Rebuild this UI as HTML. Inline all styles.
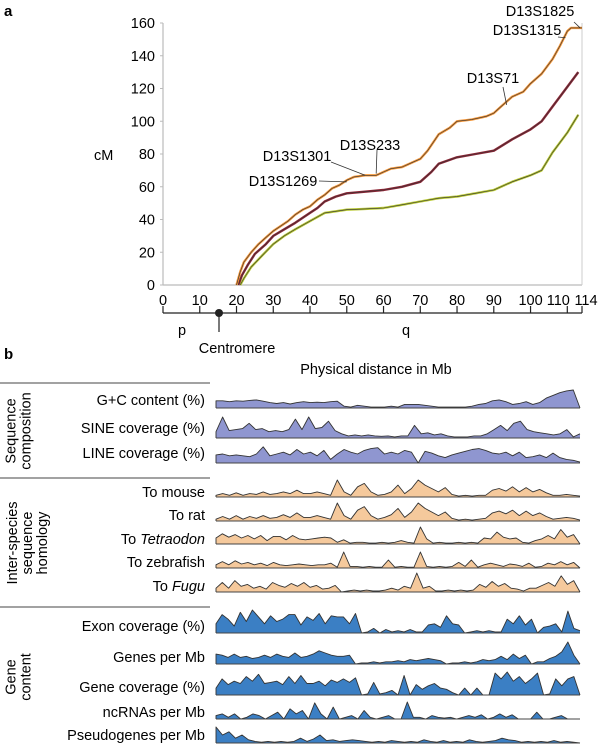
<!DOCTYPE html>
<html><head><meta charset="utf-8">
<style>
body{margin:0;background:#fff;}
svg{display:block;font-family:"Liberation Sans",Arial,sans-serif;}
</style></head>
<body>
<svg id="fig" width="600" height="746" viewBox="0 0 600 746" xmlns="http://www.w3.org/2000/svg">
<text x="4" y="16" font-size="15" font-weight="bold">a</text>
<text x="4" y="359" font-size="15" font-weight="bold">b</text>
<text x="94" y="160" font-size="14.5">cM</text>
<g id="axes"></g>
<g id="curves"></g>
<g id="markers"></g>
<g id="tracks"></g>
</svg>
<script>
// ---- Panel a data ----
const mbOrange = [20,21,22,24,26,28,30,32,34,36,38,40,42,44,46,48,50,52,55,58,60,62,65,68,70,72,75,78,80,84,88,90,92,95,98,100,103,106,108,110,111,114];
const cmOrange = [0,8,14,20,25,29,33,36,39,43,46,48,52,55,59,61,64,66,67,67,69,71,72,75,77,82,92,96,100,101,103,105,109,115,118,123,129,138,146,155,157,157];
const mbRed = [20.5,21.5,23,25,28,30,33,36,40,42,44,47,50,55,60,65,70,73,75,80,85,90,95,100,103,106,110,113];
const cmRed = [0,6,12,19,25,30,34,38,44,47,51,54,56,57,58,60,63,69,74,78,80,82,89,95,100,109,121,130];
const mbGreen = [21,22,24,27,30,33,36,40,44,47,50,55,60,65,70,75,80,85,90,95,100,103,106,110,113];
const cmGreen = [0,4,11,18,25,30,34,39,44,45,46,46.5,47,49,51,53,54,56,58,63,67,70,81,93,104];
const yTicks = [0,20,40,60,80,100,120,140,160];
const xTicks = [0,10,20,30,40,50,60,70,80,90,100,110,114];
const markerNames = ["D13S1825","D13S1315","D13S71","D13S233","D13S1301","D13S1269"];
const markerMb = [113.5,109.5,93.5,58,55,50];
const markerCm = [157,151,110,68,67,63];

// ---- Panel b data (relative heights 0..1) ----
const trackNames = ["G+C content  (%)","SINE coverage (%)","LINE coverage (%)","To mouse","To rat","To Tetraodon","To zebrafish","To Fugu","Exon coverage (%)","Genes per Mb","Gene coverage (%)","ncRNAs per Mb","Pseudogenes per Mb"];
const gcVals = [0.4,0.4,0.35,0.4,0.38,0.42,0.45,0.38,0.3,0.25,0.3,0.22,0.3,0.35,0.3,0.32,0.3,0.35,0.38,0.1,0.05,0.15,0.1,0.05,0.05,0.05,0.1,0.05,0.2,0.2,0.2,0.15,0.1,0.05,0.05,0.05,0.05,0.05,0.1,0.2,0.25,0.4,0.45,0.35,0.2,0.25,0.35,0.2,0.3,0.55,0.7,0.85,0.95,1.0,0.0];
const sineVals = [0.3,1.0,0.35,0.4,0.45,0.7,0.4,0.45,0.3,0.35,0.3,0.4,0.9,0.4,1.0,0.45,0.5,0.8,0.35,0.2,0.1,0.15,0.1,0.15,0.1,0.08,0.1,0.05,0.1,0.1,0.6,0.2,0.25,0.15,0.2,0.1,0.05,0.05,0.05,0.1,0.1,0.2,0.4,0.6,0.35,0.7,0.8,0.4,0.3,0.25,0.2,0.15,0.2,0.4,0.05,0.2];
const lineVals = [0.45,0.5,0.4,0.45,0.4,0.35,0.5,0.9,0.4,0.5,0.6,0.45,0.75,0.5,0.6,0.4,0.7,0.2,0.5,0.75,0.6,0.5,0.7,0.8,0.85,0.5,0.6,0.5,0.7,0.6,0.0,0.65,0.55,0.4,0.3,0.45,0.55,0.65,0.75,0.8,0.7,0.55,0.5,0.6,0.4,0.6,0.3,0.35,0.45,0.3,0.55,0.3,0.2,0.15,0.05];
const mouseVals = [0.1,0.2,0.1,0.25,0.1,0.2,0.15,0.3,0.15,0.2,0.3,0.2,0.4,0.2,0.2,0.3,0.2,0.1,1.0,0.3,0.1,0.6,0.8,0.3,0.1,0.15,0.3,0.7,0.2,0.5,1.0,0.7,0.5,0.3,0.55,0.15,0.05,0.1,0.05,0.1,0.1,0.4,0.5,0.35,0.6,0.3,0.55,0.3,0.45,0.25,0.1,0.1,0.15,0.1,0.05];
const ratVals = [0.1,0.25,0.1,0.3,0.1,0.25,0.15,0.3,0.15,0.2,0.35,0.2,0.45,0.2,0.2,0.3,0.2,0.1,1.0,0.3,0.1,0.6,0.8,0.3,0.1,0.2,0.35,0.7,0.2,0.5,1.0,0.7,0.5,0.3,0.5,0.15,0.05,0.1,0.05,0.1,0.15,0.45,0.55,0.4,0.6,0.3,0.55,0.3,0.45,0.25,0.1,0.15,0.2,0.15,0.05];
const tetraVals = [0.35,0.6,0.4,0.55,0.35,0.5,0.3,0.5,0.2,0.45,0.45,0.25,0.5,0.3,0.25,0.3,0.35,0.4,0.35,0.1,0.25,0.05,0.1,0.1,0.05,0.05,0.1,0.05,0.1,0.2,0.1,0.05,1.0,0.3,0.05,0.1,0.05,0.05,0.1,0.05,0.1,0.05,0.35,0.3,0.7,0.4,0.3,0.35,0.1,0.05,0.2,0.3,0.5,0.3,0.85,0.4,0.55,0.0];
const zebraVals = [0.2,0.4,0.2,0.45,0.25,0.35,0.2,0.3,0.15,0.35,0.2,0.15,0.2,0.25,0.2,0.15,0.2,0.2,0.3,0.05,1.0,0.1,0.1,0.05,0.1,0.05,0.05,0.5,0.05,0.1,0.05,0.05,1.0,0.1,0.05,0.1,0.05,0.1,0.35,0.1,0.5,0.05,0.2,0.3,0.2,0.1,0.25,0.2,0.1,0.3,0.05,0.1,0.3,0.2,0.4,0.2,0.35,0.0];
const fuguVals = [0.2,0.5,0.2,0.6,0.3,0.4,0.2,0.3,0.15,0.5,0.35,0.25,0.45,0.3,0.5,0.25,0.35,0.15,0.2,0.35,0.0,0.05,0.1,0.05,0.1,0.05,0.05,0.1,0.2,0.1,0.3,0.2,1.0,0.2,0.3,0.05,0.05,0.1,0.05,0.1,0.05,0.1,0.4,0.25,0.55,0.3,0.45,0.2,0.15,0.05,0.2,0.2,0.35,0.5,0.3,0.85,0.4,0.6,0.0];
const exonVals = [0.4,0.8,0.6,0.3,0.9,0.5,1.0,0.7,0.4,0.75,0.5,0.6,0.8,0.8,0.35,0.7,0.55,0.85,0.4,0.75,0.7,0.7,0.4,0.85,0.0,0.05,0.2,0.0,0.15,0.05,0.1,0.05,0.15,0.05,0.05,0.35,0.4,0.25,0.75,0.4,0.35,0.0,0.05,0.1,0.05,0.1,0.05,0.05,0.6,0.4,0.75,0.35,0.6,0.0,0.25,0.3,0.4,0.05,0.95,0.2,0.1];
const genesVals = [0.45,0.4,0.3,0.45,0.3,0.35,0.25,0.3,0.4,0.3,0.45,0.35,0.3,0.5,0.3,0.35,0.45,0.6,0.5,0.4,0.35,0.35,0.4,0.0,0.05,0.05,0.1,0.05,0.1,0.1,0.15,0.1,0.2,0.15,0.2,0.25,0.2,0.15,0.0,0.05,0.05,0.1,0.05,0.1,0.2,0.15,0.2,0.35,0.2,0.45,0.25,0.4,0.0,0.1,0.1,0.25,0.35,0.55,1.0,0.4,0.0];
const geneCovVals = [0.3,0.7,0.45,0.6,0.5,0.8,0.6,0.9,0.5,0.55,0.6,0.45,0.8,0.5,0.85,0.5,0.5,0.6,0.4,0.65,0.55,0.7,0.55,0.75,0.0,0.05,0.55,0.05,0.1,0.2,0.0,0.85,0.0,0.45,0.25,0.4,0.5,0.3,0.25,0.1,0.0,0.3,0.0,0.3,0.0,0.0,0.95,0.7,1.0,0.6,0.8,0.5,0.7,0.95,0.0,0.05,0.7,0.4,0.7,0.8,0.0];
const ncVals = [0.2,0.3,0.1,0.3,0.0,0.1,0.3,0.2,0.0,0.2,0.4,0.0,0.6,0.3,0.5,0.0,0.95,0.3,0.0,0.7,0.0,0.1,0.2,0.0,0.5,0.1,0.0,0.1,0.2,0.0,0.0,1.0,0.1,0.1,0.0,0.2,0.1,0.05,0.1,0.0,0.1,0.2,0.1,0.25,0.0,0.1,0.3,0.1,0.25,0.0,0.0,0.0,0.4,0.0,0.0,0.1,0.2,0.0,0.0,0.0];
const pseudoVals = [1.0,0.5,0.7,0.3,0.5,0.2,0.1,0.05,0.1,0.05,0.1,0.05,0.1,0.3,0.1,0.25,0.5,0.15,0.2,0.1,0.15,0.2,0.15,0.1,0.05,0.1,0.05,0.15,0.1,0.05,0.1,0.05,0.2,0.1,0.05,0.15,0.05,0.1,0.05,0.2,0.1,0.05,0.1,0.15,0.3,0.2,0.15,0.05,0.1,0.05,0.1,0.05,0.15,0.05,0.1,0.05,0.0];

const NS = "http://www.w3.org/2000/svg";
const FS = 14.5;
function mk(tag, attrs, parent){const e=document.createElementNS(NS,tag);for(const k in attrs)e.setAttribute(k,attrs[k]);parent.appendChild(e);return e;}
const xS = mb => 163 + mb*(582-163)/114;
const yS = cm => 285 - cm*(285-23)/160;

const axes = document.getElementById('axes');
let e = mk('line',{x1:163,y1:23,x2:163,y2:285,stroke:'#bbb','stroke-width':1.2},axes);


e = mk('line',{x1:163,y1:285,x2:582,y2:285,stroke:'#bbb','stroke-width':1.2},axes);


e = mk('line',{x1:582,y1:23,x2:582,y2:285,stroke:'#ccc','stroke-width':1},axes);


yTicks.forEach(v=>{
  const t = mk('text',{x:155,y:yS(v)+5,'font-size':FS,'text-anchor':'end'},axes);
  t.textContent=v;
  
  
  const l = mk('line',{x1:160,y1:yS(v),x2:163,y2:yS(v),stroke:'#bbb'},axes);
  
  
});
xTicks.forEach(v=>{
  let lx = xS(v);
  if(v===110) lx -= 9;
  if(v===114) lx += 4;
  const t = mk('text',{x:lx,y:305,'font-size':FS,'text-anchor':'middle'},axes);
  t.textContent=v;
  
  
  const l = mk('line',{x1:xS(v),y1:306,x2:xS(v),y2:313,stroke:'#222','stroke-width':1.2},axes);
  
  
});
e = mk('line',{x1:163,y1:313,x2:582,y2:313,stroke:'#222','stroke-width':1.2},axes);


e = mk('line',{x1:219,y1:313,x2:219,y2:332,stroke:'#222','stroke-width':1.2},axes);


e = mk('circle',{cx:219,cy:313,r:4,fill:'#222'},axes);


[["p",182,335,'arm-p-label'],["q",406,335,'arm-q-label'],["Centromere",237,353,'centromere-label'],["Physical distance in Mb",376,374,'x-axis-title']].forEach(a=>{
  const t = mk('text',{x:a[1],y:a[2],'font-size':FS,'text-anchor':'middle'},axes);
  t.textContent=a[0];
  
  
});

const curves = document.getElementById('curves');
function drawCurve(mbs,cms,color,name){
  const d = mbs.map((m,i)=>(i?'L':'M')+xS(m).toFixed(1)+','+yS(cms[i]).toFixed(1)).join(' ');
  const p = mk('path',{d:d,fill:'none',stroke:color,'stroke-width':2.4,'stroke-linejoin':'round'},curves);
  
  
  const p2 = mk('path',{d:d,fill:'none',stroke:'#333','stroke-width':0.6},curves);
  
  
}
drawCurve(mbGreen,cmGreen,'#b9c934','series-green');
drawCurve(mbRed,cmRed,'#8e2535','series-dark-red');
drawCurve(mbOrange,cmOrange,'#f4973a','series-orange');

const markers = document.getElementById('markers');
const labelPos = [[540,16],[527,35],[493,83],[370,150],[297,161],[283,186]];
const leaderStart = [[574,22],[558,37],[503,87],[377,150],[331,162],[319,181]];
markerNames.forEach((n,i)=>{
  const lp = labelPos[i];
  const t = mk('text',{x:lp[0],y:lp[1],'font-size':FS,'text-anchor':'middle'},markers);
  t.textContent=n;
  
  
  const l = mk('line',{x1:leaderStart[i][0],y1:leaderStart[i][1],x2:xS(markerMb[i]),y2:yS(markerCm[i]),stroke:'#333','stroke-width':0.8},markers);
  
  
});

// ---- Panel b ----
const tracks = document.getElementById('tracks');
const trackData = [gcVals,sineVals,lineVals,mouseVals,ratVals,tetraVals,zebraVals,fuguVals,exonVals,genesVals,geneCovVals,ncVals,pseudoVals];
const baseY = [408,438,463,497,521,544,568,592,633,664,695,719,743];
const hts = [18,21,18,17,18,17,16,19,23,22,23,17,16];
const labY = [405,433,458,497,520,544,567,591,631,662,692,717,740];
const fills = ['#8f96d0','#8f96d0','#8f96d0','#f5c99c','#f5c99c','#f5c99c','#f5c99c','#f5c99c','#3b7fc4','#3b7fc4','#3b7fc4','#3b7fc4','#3b7fc4'];
const tx0=216, tx1=580;
trackData.forEach((vals,k)=>{
  const n=vals.length;
  const px = i=> tx0 + i*(tx1-tx0)/(n-1);
  const py = v=> baseY[k] - v*hts[k];
  let d = 'M'+tx0+','+baseY[k];
  vals.forEach((v,i)=>{ d+=' L'+px(i).toFixed(1)+','+py(v).toFixed(1); });
  const area = mk('path',{d:d+' L'+tx1+','+baseY[k]+' Z',fill:fills[k],stroke:'none'},tracks);
  
  
  const top = mk('path',{d:d,fill:'none',stroke:'#333','stroke-width':0.9,'stroke-linejoin':'round'},tracks);
  
  
  const base = mk('line',{x1:tx0,y1:baseY[k],x2:tx1,y2:baseY[k],stroke:'#444','stroke-width':0.9},tracks);
  
  
  const t = mk('text',{x:205,y:labY[k],'font-size':FS,'text-anchor':'end'},tracks);
  const name = trackNames[k];
  if(name.indexOf('Tetraodon')>=0||name.indexOf('Fugu')>=0){
    t.appendChild(document.createTextNode('To '));
    const it = mk('tspan',{'font-style':'italic'},t);
    it.textContent = name.slice(3);
  } else t.textContent=name;
  
  
});
[383,478,607].forEach(y=>{
  const l = mk('line',{x1:0,y1:y,x2:210,y2:y,stroke:'#444','stroke-width':1},tracks);
  
  
});
const groups = [[["Sequence","composition"],18,431],[["Inter-species","sequence","homology"],27,543],[["Gene","content"],18,677]];
groups.forEach(g=>{
  const t = mk('text',{transform:'translate('+g[1]+','+g[2]+') rotate(-90)','font-size':FS,'text-anchor':'middle'},tracks);
  const lh=15, off=-(g[0].length-1)*lh/2+5;
  g[0].forEach((s,i)=>{const ts=mk('tspan',{x:0,y:off+i*lh},t);ts.textContent=s;});
  
  
});
</script>
</body></html>
